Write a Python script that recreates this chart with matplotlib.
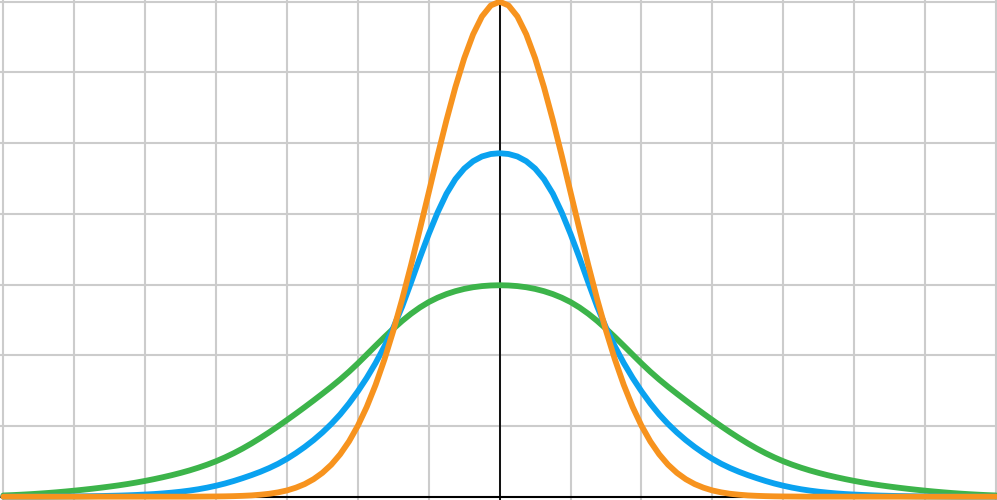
import numpy as np
import matplotlib
matplotlib.use("Agg")
import matplotlib.pyplot as plt

# the three bells are symmetric about x = 0; values read for x = 0, 0.125, ..., 7
# (left half is the mirror image)
step = 0.125

green_half = [2.990, 2.987, 2.978, 2.962, 2.938, 2.906, 2.865, 2.814, 2.752, 2.676,
              2.587, 2.486, 2.375, 2.257, 2.134, 2.009, 1.885, 1.767, 1.657, 1.554,
              1.456, 1.360, 1.266, 1.174, 1.084, 0.996, 0.911, 0.830, 0.753, 0.681,
              0.615, 0.555, 0.501, 0.453, 0.410, 0.371, 0.336, 0.304, 0.275, 0.248,
              0.223, 0.200, 0.179, 0.160, 0.143, 0.127, 0.112, 0.098, 0.085, 0.073,
              0.062, 0.052, 0.043, 0.035, 0.028, 0.022, 0.017]

blue_half = [4.857, 4.846, 4.811, 4.744, 4.640, 4.49, 4.285, 4.02, 3.715, 3.38,
             3.03, 2.69, 2.39, 2.125, 1.89, 1.68, 1.49, 1.318, 1.163, 1.028,
             0.908, 0.80, 0.703, 0.615, 0.535, 0.465, 0.405, 0.352, 0.305, 0.262,
             0.222, 0.186, 0.155, 0.128, 0.105, 0.086, 0.07, 0.057, 0.046, 0.037,
             0.03, 0.024, 0.019, 0.015, 0.012, 0.009, 0.007, 0.005, 0.004, 0.003,
             0.002, 0.001, 0, 0, 0, 0, 0]

orange_half = [7.00, 6.947, 6.791, 6.538, 6.20, 5.79, 5.325, 4.825, 4.303, 3.783,
               3.275, 2.793, 2.347, 1.941, 1.581, 1.269, 1.003, 0.781, 0.599, 0.452,
               0.337, 0.247, 0.178, 0.127, 0.088, 0.061, 0.041, 0.028, 0.018, 0.012,
               0.0076, 0.0048, 0.003, 0.002, 0.001, 0, 0, 0, 0, 0,
               0, 0, 0, 0, 0, 0, 0, 0, 0, 0,
               0, 0, 0, 0, 0, 0, 0]


def mirror(half):
    half = np.asarray(half, dtype=float)
    xs = np.arange(len(half)) * step
    return (np.concatenate([-xs[:0:-1], xs]),
            np.concatenate([half[:0:-1], half]))


fig = plt.figure(figsize=(9.97, 5.0), dpi=100)
ax = fig.add_axes([0, 0, 1, 1])

# grid
for gx in range(-7, 8):
    ax.axvline(gx, color="#cccccc", lw=1.5, zorder=1)
for gy in range(1, 8):
    ax.axhline(gy, color="#cccccc", lw=1.5, zorder=1)
ax.axvline(0, color="black", lw=1.3, zorder=2)
ax.axhline(0, color="black", lw=1.5, zorder=2)

for half, col, z in [(green_half, "#3cb44a", 3),
                     (blue_half, "#0aa2f0", 4),
                     (orange_half, "#f7931e", 5)]:
    xs, ys = mirror(half)
    ax.plot(xs, ys, color=col, lw=4.2, solid_capstyle="round",
            solid_joinstyle="round", zorder=z)

ax.set_xlim(-7.047, 7.014)
ax.set_ylim(-0.047, 7.024)
ax.axis("off")

fig.savefig("out.png", dpi=100)
